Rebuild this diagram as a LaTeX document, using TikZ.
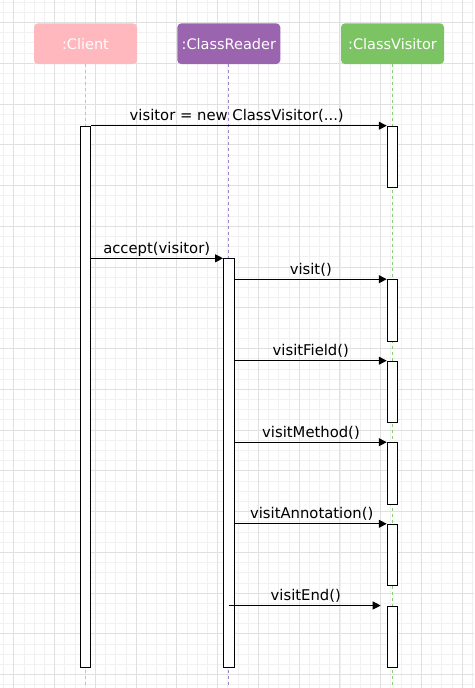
\documentclass[tikz,border=0pt]{standalone}
\usepackage{fontspec}
\setmainfont{DejaVu Sans}
\usetikzlibrary{arrows.meta}
\definecolor{gridminor}{HTML}{F1F1F1}
\definecolor{gridmajor}{HTML}{E0E0E0}
\definecolor{clientc}{HTML}{FFB8BE}
\definecolor{readerc}{HTML}{9B64AE}
\definecolor{visitorc}{HTML}{7CC463}
\definecolor{clientl}{HTML}{F4A9B2}
\definecolor{readerl}{HTML}{9A86C8}
\definecolor{visitorl}{HTML}{8CCB78}
\tikzset{
  head/.style={rounded corners=4pt, minimum width=103pt, minimum height=40.7pt, inner sep=0pt, text=white, font=\fontsize{14.5}{16}\selectfont},
  act/.style={draw=black, fill=white, line width=1pt, minimum width=10.5pt, inner sep=0pt, anchor=north},
  life/.style={line width=0.8pt, dash pattern=on 3pt off 3pt},
  msg/.style={draw=black, line width=1pt, -{Triangle[length=8pt,width=8pt]}},
  lbl/.style={font=\fontsize{14.8}{16}\selectfont, text=black, inner sep=0pt, anchor=base}
}
\begin{document}
\begin{tikzpicture}[x=1pt,y=-1pt]
\useasboundingbox (0,0) rectangle (474,688);
\fill[white] (0,0) rectangle (474,688);
% grid
\foreach \i in {-1,...,46} {
  \draw[gridminor, line width=0.5pt] ({13.7+\i*10.19},0) -- ({13.7+\i*10.19},688);
}
\foreach \i in {-2,...,66} {
  \draw[gridminor, line width=0.5pt] (0,{22.3+\i*10.19}) -- (474,{22.3+\i*10.19});
}
\foreach \i in {0,...,11} {
  \draw[gridmajor, line width=0.6pt] ({13.7+\i*40.76},0) -- ({13.7+\i*40.76},688);
}
\foreach \i in {-1,...,16} {
  \draw[gridmajor, line width=0.6pt] (0,{22.3+\i*40.76}) -- (474,{22.3+\i*40.76});
}
% heads
\node[head, fill=clientc] (client) at (85.5,43.7) {:Client};
\node[head, fill=readerc] (reader) at (228.8,43.7) {:ClassReader};
\node[head, fill=visitorc] (visitor) at (392.5,43.7) {:ClassVisitor};
% lifeline ends
\coordinate (clientend) at (85.5,688);
\coordinate (readerend) at (228.8,688);
\coordinate (visitorend) at (392.5,688);
\draw[life, clientl] (client.south) -- (clientend);
\draw[life, readerl] (reader.south) -- (readerend);
\draw[life, visitorl] (visitor.south) -- (visitorend);
% activations
\node[act, minimum height=541pt] (aclient) at (85.5,125.7) {};
\node[act, minimum height=408.4pt] (areader) at (228.8,258.3) {};
\node[act, minimum height=61.3pt] (v0) at (392.5,125.7) {};
\node[act, minimum height=61.3pt] (v1) at (392.5,279.2) {};
\node[act, minimum height=61.3pt] (v2) at (392.5,360.7) {};
\node[act, minimum height=61.3pt] (v3) at (392.5,442.2) {};
\node[act, minimum height=61.3pt] (v4) at (392.5,523.8) {};
\node[act, minimum height=61.3pt] (v5) at (392.5,605.5) {};
% messages
\draw[msg] (aclient.north east) -- (v0.north west);
\node[lbl] (l0) at (236.7,120.5) {visitor = new ClassVisitor(...)};
\coordinate (s1) at (aclient.east |- areader.north);
\draw[msg] (s1) -- (areader.north west);
\node[lbl] (l1) at (156.7,253) {accept(visitor)};
\coordinate (s2) at (areader.east |- v1.north);
\draw[msg] (s2) -- (v1.north west);
\node[lbl] (l2) at (310.8,274) {visit()};
\coordinate (s3) at (areader.east |- v2.north);
\draw[msg] (s3) -- (v2.north west);
\node[lbl] (l3) at (310.8,355.5) {visitField()};
\coordinate (s4) at (areader.east |- v3.north);
\draw[msg] (s4) -- (v3.north west);
\node[lbl] (l4) at (311,437) {visitMethod()};
\coordinate (s5) at (areader.east |- v4.north);
\draw[msg] (s5) -- (v4.north west);
\node[lbl] (l5) at (311.7,518.5) {visitAnnotation()};
\coordinate (s6) at (areader.center |- v5.north);
\coordinate (e6) at (380.7,605.5);
\draw[msg] (s6) -- (e6);
\node[lbl] (l6) at (305.8,600.5) {visitEnd()};
\end{tikzpicture}
\end{document}
